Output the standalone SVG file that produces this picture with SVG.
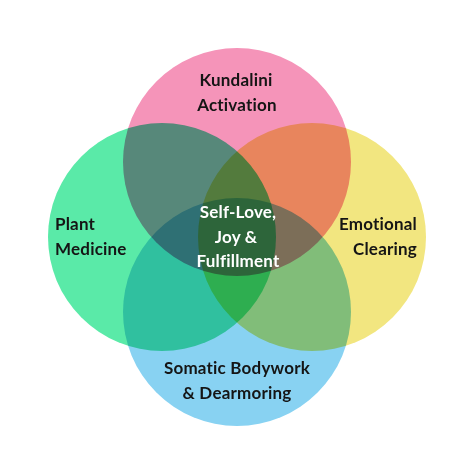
<svg xmlns="http://www.w3.org/2000/svg" width="474" height="474" viewBox="0 0 474 474">
<style>
.c{mix-blend-mode:multiply}
.t{font-family:Lato,"Open Sans","Liberation Sans",sans-serif;font-weight:bold;font-size:17px;letter-spacing:0.2px;fill:#151515;text-anchor:middle}
.w{fill:#ffffff}
</style>
<rect width="474" height="474" fill="#ffffff"/>
<g id="circles" style="isolation:isolate">
<g id="kundalini"><circle class="c" cx="237" cy="162" r="114" fill="#f594b9"/></g>
<g id="plant"><circle class="c" cx="162" cy="237" r="114" fill="#5aeaa8"/></g>
<g id="emotional"><circle class="c" cx="312" cy="237" r="114" fill="#f2e680"/></g>
<g id="somatic"><circle class="c" cx="237" cy="312" r="114" fill="#88d2f2"/></g>
</g>
<g id="connectors"></g>
<g id="labels">
<text class="t" x="236" y="86">Kundalini</text>
<text class="t" x="237" y="111">Activation</text>
<text class="t" x="55" y="230" style="text-anchor:start">Plant</text>
<text class="t" x="55" y="255" style="text-anchor:start">Medicine</text>
<text class="t" x="417" y="230" style="text-anchor:end">Emotional</text>
<text class="t" x="417" y="255" style="text-anchor:end">Clearing</text>
<text class="t" x="237" y="374">Somatic Bodywork</text>
<text class="t" x="237" y="399">&amp; Dearmoring</text>
<text class="t w" x="238" y="218">Self-Love,</text>
<text class="t w" x="236" y="243">Joy &amp;</text>
<text class="t w" x="238" y="267">Fulfillment</text>
</g>
</svg>
